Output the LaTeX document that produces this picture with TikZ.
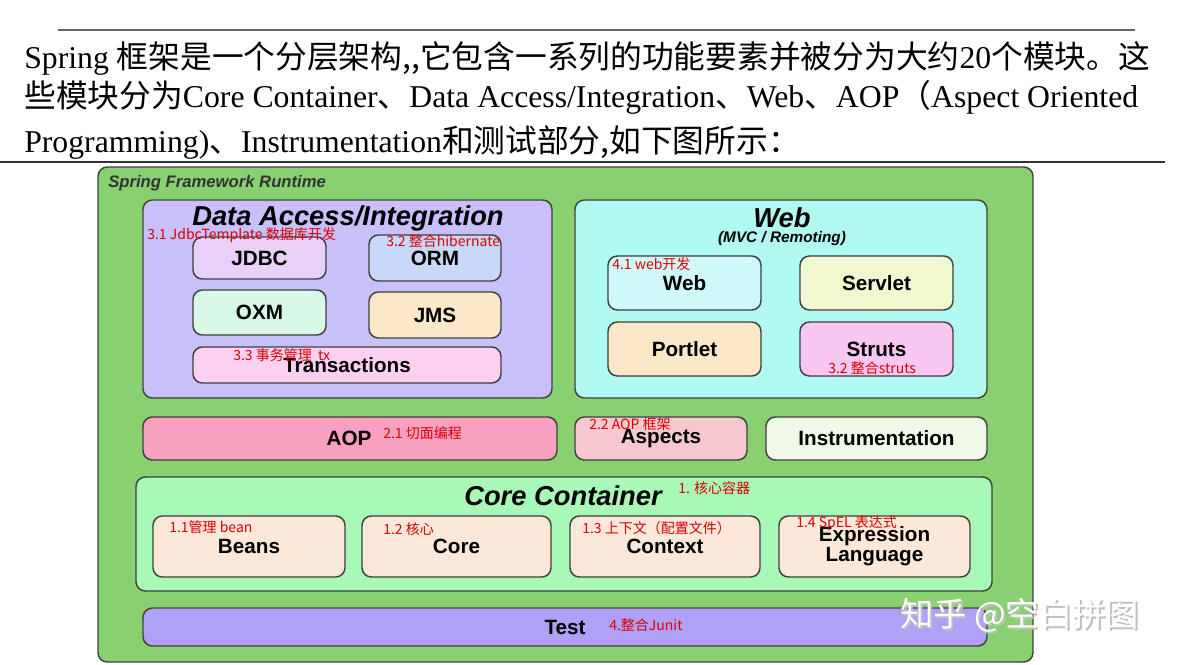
\documentclass[tikz,border=0pt]{standalone}
\usepackage{fontspec}
\setmainfont{Liberation Serif}
\newfontfamily\cjk{Noto Sans CJK SC}
\newfontfamily\hsans{Liberation Sans}
\begin{document}
\begin{tikzpicture}[x=0.75pt,y=-0.75pt,
  box/.style={draw=black!75,line width=1.1pt,rounded corners=7pt},
  mod/.style={box,font=\hsans\bfseries\fontsize{15.5}{16}\selectfont,align=center},
  ttl/.style={font=\hsans\bfseries\itshape\fontsize{20.5}{21}\selectfont},
  ann/.style={font=\cjk\fontsize{10.5}{11}\selectfont,text=red!85!black,inner sep=0pt,anchor=west},
  hd/.style={font=\fontsize{23.8}{24}\selectfont,inner sep=0pt,anchor=base west}]
\useasboundingbox (0,0) rectangle (1184,664);
\fill[white] (0,0) rectangle (1184,664);
\draw[black!60,line width=1pt] (58,30) -- (1135,30);
\draw[black!80,line width=1pt] (0,162) -- (1165,162);
\node[hd] (h1) at (24,68) {Spring {\cjk 框架是一个分层架构,,它包含一系列的功能要素并被分为大约}20{\cjk 个模块。这}};
\node[hd] (h2) at (24,107) {{\cjk 些模块分为}Core Container{\cjk 、}Data Access/Integration{\cjk 、}Web{\cjk 、}AOP{\cjk （}Aspect Oriented};
\node[hd] (h3) at (24,152) {Programming){\cjk 、}Instrumentation{\cjk 和测试部分,如下图所示：}};
% outer
\draw[box,fill={rgb,255:red,136;green,208;blue,112}] (98,167) rectangle (1033,662);
\node[font=\hsans\bfseries\itshape\fontsize{12.5}{13}\selectfont,anchor=west,inner sep=0pt,text=black!80] (rt) at (108,183) {Spring Framework Runtime};
% data access
\draw[box,fill={rgb,255:red,200;green,192;blue,248}] (143,200) rectangle (552,398);
\node[ttl] (dat) at (348,218) {Data Access/Integration};
\node[mod,fill={rgb,255:red,232;green,208;blue,248},minimum width=99.75pt,minimum height=31.5pt] (jdbc) at (259.5,258) {JDBC};
\node[mod,fill={rgb,255:red,200;green,216;blue,248},minimum width=99pt,minimum height=34.5pt] (orm) at (435,258) {ORM};
\node[mod,fill={rgb,255:red,216;green,248;blue,232},minimum width=99.75pt,minimum height=33.75pt] (oxm) at (259.5,312.5) {OXM};
\node[mod,fill={rgb,255:red,251;green,232;blue,200},minimum width=99pt,minimum height=34.5pt] (jms) at (435,315) {JMS};
\node[mod,fill={rgb,255:red,251;green,208;blue,240},minimum width=231pt,minimum height=27pt] (tx) at (347,365) {Transactions};
% web
\draw[box,fill={rgb,255:red,176;green,248;blue,240}] (575,200) rectangle (987,398);
\node[ttl] (wt) at (782,218) {Web};
\node[font=\hsans\bfseries\itshape\fontsize{11.5}{12}\selectfont] (wt2) at (782,239) {(MVC / Remoting)};
\node[mod,fill={rgb,255:red,208;green,248;blue,248},minimum width=114.75pt,minimum height=40.5pt] (web) at (684.5,283) {Web};
\node[mod,fill={rgb,255:red,240;green,248;blue,208},minimum width=114.75pt,minimum height=40.5pt] (srv) at (876.5,283) {Servlet};
\node[mod,fill={rgb,255:red,251;green,232;blue,200},minimum width=114.75pt,minimum height=40.5pt] (por) at (684.5,349) {Portlet};
\node[mod,fill={rgb,255:red,248;green,200;blue,240},minimum width=114.75pt,minimum height=40.5pt] (str) at (876.5,349) {Struts};
% aop row
\node[mod,fill={rgb,255:red,248;green,160;blue,192},minimum width=310.5pt,minimum height=32.25pt] (aop) at (350,438.5) {};
\node[font=\hsans\bfseries\fontsize{15.5}{16}\selectfont] (aopt) at (349,438.5) {AOP};
\node[mod,fill={rgb,255:red,248;green,200;blue,208},minimum width=129pt,minimum height=32.25pt] (asp) at (661,438.5) {Aspects};
\node[mod,fill={rgb,255:red,240;green,248;blue,232},minimum width=165.75pt,minimum height=32.25pt] (ins) at (876.5,438.5) {Instrumentation};
% core
\draw[box,fill={rgb,255:red,168;green,248;blue,184}] (136,477) rectangle (992,591);
\node[ttl] (ct) at (563,496) {Core Container};
\node[mod,fill={rgb,255:red,251;green,232;blue,216},minimum width=144pt,minimum height=45.75pt] (bean) at (249,546.5) {Beans};
\node[mod,fill={rgb,255:red,251;green,232;blue,216},minimum width=141.75pt,minimum height=45.75pt] (core) at (456.5,546.5) {Core};
\node[mod,fill={rgb,255:red,251;green,232;blue,216},minimum width=142.5pt,minimum height=45.75pt] (ctx) at (665,546.5) {Context};
\node[mod,fill={rgb,255:red,251;green,232;blue,216},minimum width=143.25pt,minimum height=45.75pt] (expr) at (874.5,546.5) {Expression\\[-1pt]Language};
% test
\node[mod,fill={rgb,255:red,176;green,160;blue,248},minimum width=633pt,minimum height=28.5pt] (test) at (565,627) {};
\node[font=\hsans\bfseries\fontsize{15.5}{16}\selectfont] (testt) at (565,627) {Test};
% annotations
\node[ann] (a31) at (147,235) {3.1 JdbcTemplate 数据库开发};
\node[ann] (a32) at (386,241) {3.2 整合hibernate};
\node[ann] (a33) at (233,355) {3.3 事务管理\ \ tx};
\node[ann] (a41) at (612,264) {4.1 web开发};
\node[ann] (a42) at (828,368) {3.2 整合struts};
\node[ann] (a21) at (383,433) {2.1 切面编程};
\node[ann] (a22) at (589,424) {2.2 AOP 框架};
\node[ann] (a1) at (678,488) {1. 核心容器};
\node[ann] (a11) at (169,527) {1.1管理 bean};
\node[ann] (a12) at (383,529) {1.2 核心};
\node[ann] (a13) at (582,528) {1.3 上下文（配置文件）};
\node[ann] (a14) at (796,523) {1.4 SpEL 表达式};
\node[ann] (a4) at (609,625) {4.整合Junit};
% watermark
\node[font=\cjk\fontsize{25}{26}\selectfont,text=black!25,anchor=west,inner sep=0pt] (wm0) at (902,617) {知乎 @空白拼图};
\node[font=\cjk\fontsize{25}{26}\selectfont,text=white,anchor=west,inner sep=0pt] (wm) at (900,615) {知乎 @空白拼图};
\end{tikzpicture}
\end{document}
